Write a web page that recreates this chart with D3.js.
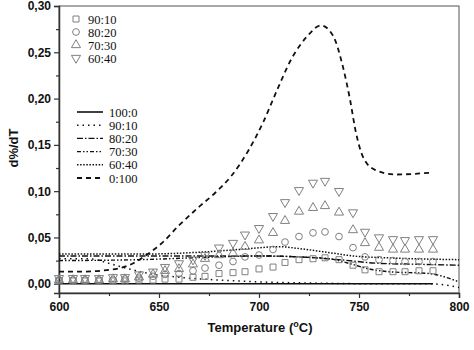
<!DOCTYPE html>
<html>
<head>
<meta charset="utf-8">
<script src="https://cdn.jsdelivr.net/npm/d3@7"></script>
<style>
  body { margin: 0; background: #fff; }
  svg { display: block; }
</style>
</head>
<body>
<svg id="chart" width="474" height="350"></svg>
<script>
// symbol series (sampled every ~6.7 °C)
const temps = [600,607,613,620,627,633,640,647,653,660,667,673,680,687,693,700,707,713,720,727,733,740,747,753,760,767,773,780,787];
const s9010 = [0.003,0.003,0.003,0.003,0.003,0.003,0.004,0.004,0.005,0.005,0.007,0.008,0.011,0.012,0.013,0.016,0.018,0.023,0.026,0.027,0.028,0.026,0.020,0.015,0.013,0.013,0.013,0.014,0.014];
const s8020 = [0.004,0.004,0.004,0.004,0.004,0.005,0.006,0.008,0.010,0.011,0.014,0.017,0.020,0.024,0.029,0.031,0.037,0.045,0.051,0.055,0.056,0.051,0.039,0.029,0.026,0.025,0.024,0.024,0.024];
const s7030 = [0.004,0.004,0.004,0.004,0.005,0.005,0.007,0.010,0.014,0.016,0.021,0.027,0.031,0.033,0.040,0.047,0.055,0.068,0.078,0.082,0.084,0.077,0.058,0.044,0.039,0.037,0.037,0.037,0.037];
const s6040 = [0.006,0.006,0.006,0.006,0.007,0.007,0.010,0.013,0.018,0.022,0.026,0.031,0.039,0.044,0.053,0.060,0.073,0.088,0.101,0.109,0.111,0.100,0.077,0.056,0.050,0.048,0.047,0.048,0.048];

// line series
const l1000T = [600,650,700,750,787];
const l1000V = [0.000,0.000,0.000,0.000,0.000];
const l9010T = [600,615,625,635,645,660,680,700,720,760,785,800];
const l9010V = [0.027,0.027,0.022,0.016,0.011,0.007,0.004,0.002,0.001,0.000,0.000,-0.004];
const l8020T = [600,650,700,720,740,760,780,800];
const l8020V = [0.030,0.030,0.030,0.029,0.026,0.022,0.021,0.020];
const l7030T = [600,640,680,700,720,735,745,755,765,785,800];
const l7030V = [0.025,0.026,0.029,0.030,0.029,0.027,0.022,0.016,0.013,0.011,0.002];
const l6040T = [600,640,670,690,710,720,737,747,764,800];
const l6040V = [0.032,0.032,0.034,0.037,0.040,0.038,0.033,0.030,0.028,0.026];
const l0100T = [600,610,625,635,645,652,660,670,678,686,695,702,709,716,724,731,737,742,745.5,748.5,752,758,768,786];
const l0100V = [0.013,0.013,0.015,0.020,0.033,0.045,0.063,0.083,0.098,0.116,0.145,0.174,0.209,0.242,0.267,0.279,0.268,0.234,0.199,0.163,0.137,0.123,0.118,0.120];

const symLabels = ["90:10","80:20","70:30","60:40"];
const lineLabels = ["100:0","90:10","80:20","70:30","60:40","0:100"];
const yTicks = [0,0.05,0.10,0.15,0.20,0.25,0.30];
const xTicks = [600,650,700,750,800];

let svg = d3.select("#chart");
let pLeft = 59, pRight = 459, pTop = 6, pBottom = 293;

let x = d3.scaleLinear().domain([600, 800]).range([pLeft, pRight]);
let y = d3.scaleLinear().domain([-0.01, 0.30]).range([pBottom, pTop]);

let comma = d3.formatLocale({decimal: ",", thousands: ".", grouping: [3], currency: ["", ""]}).format(".2f");

// frame
svg.append("rect")
   .attr("x", pLeft).attr("y", pTop)
   .attr("width", pRight - pLeft).attr("height", pBottom - pTop)
   .attr("fill", "none").attr("stroke", "#555").attr("stroke-width", 1);

// axes
svg.append("g").attr("transform", `translate(${pLeft},0)`)
   .call(d3.axisLeft(y).tickValues(yTicks).tickFormat(comma).tickSize(5).tickPadding(3));
svg.append("g").attr("transform", `translate(${pLeft},0)`)
   .call(d3.axisLeft(y).tickValues([0.025,0.075,0.125,0.175,0.225,0.275]).tickFormat("").tickSize(3))
   .call(g => g.selectAll("text").remove())
   .select(".domain").remove();
svg.append("g").attr("transform", `translate(0,${pBottom})`)
   .call(d3.axisBottom(x).tickValues(xTicks).tickSize(5).tickPadding(4));
svg.append("g").attr("transform", `translate(0,${pBottom})`)
   .call(d3.axisBottom(x).tickValues([625,675,725,775]).tickFormat("").tickSize(3))
   .call(g => g.selectAll("text").remove())
   .select(".domain").remove();

svg.selectAll(".domain").attr("stroke", "#333").attr("stroke-width", 1.5);
svg.selectAll(".tick line").attr("stroke", "#333").attr("stroke-width", 1.2);
svg.selectAll(".tick text")
   .attr("font-family", "'Liberation Sans', Arial, sans-serif")
   .attr("font-weight", "bold").attr("font-size", 12).attr("fill", "#111");

// axis titles
let xt = svg.append("text")
   .attr("x", 260).attr("y", 332).attr("text-anchor", "middle")
   .attr("font-family", "'Liberation Sans', Arial, sans-serif")
   .attr("font-weight", "bold").attr("font-size", 13).attr("fill", "#111");
xt.append("tspan").text("Temperature (");
xt.append("tspan").attr("font-size", 9).attr("dy", -5).text("o");
xt.append("tspan").attr("dy", 5).text("C)");

svg.append("text")
   .attr("transform", "translate(18,148) rotate(-90)")
   .attr("text-anchor", "middle")
   .attr("font-family", "'Liberation Sans', Arial, sans-serif")
   .attr("font-weight", "bold").attr("font-size", 13).attr("fill", "#111")
   .text("d%/dT");

// lines
let lineGen = d3.line().x(d => x(d[0])).y(d => y(d[1])).curve(d3.curveMonotoneX);
let lineSeries = [
  {t: l1000T, v: l1000V, dash: null, w: 1.6},
  {t: l9010T, v: l9010V, dash: "1.5,4", w: 1.5},
  {t: l8020T, v: l8020V, dash: "6,2,1.5,2", w: 1.4},
  {t: l7030T, v: l7030V, dash: "4,2,1.5,2,1.5,2", w: 1.4},
  {t: l6040T, v: l6040V, dash: "1.5,1.6", w: 1.5},
  {t: l0100T, v: l0100V, dash: "5,4", w: 1.8}
];
let plot = svg.append("g");
plot.selectAll("path.series")
    .data(lineSeries)
    .enter()
    .append("path")
    .attr("class", "series")
    .attr("d", d => lineGen(d.t.map((t, i) => [t, d.v[i]])))
    .attr("fill", "none")
    .attr("stroke", "#111")
    .attr("stroke-width", d => d.w)
    .attr("stroke-dasharray", d => d.dash);

// symbols
let symSeries = [
  {v: s9010, type: d3.symbolSquare, size: 36, rot: 0},
  {v: s8020, type: d3.symbolCircle, size: 36, rot: 0},
  {v: s7030, type: d3.symbolTriangle, size: 36, rot: 0},
  {v: s6040, type: d3.symbolTriangle, size: 36, rot: 180}
];
let symGray = "#808080";
symSeries.forEach(s => {
  plot.append("g").selectAll("path")
      .data(temps.map((t, i) => [t, s.v[i]]))
      .enter()
      .append("path")
      .attr("d", d3.symbol().type(s.type).size(s.size))
      .attr("transform", d => `translate(${x(d[0])},${y(d[1])}) rotate(${s.rot})`)
      .attr("fill", "none")
      .attr("stroke", symGray)
      .attr("stroke-width", 1);
});

// legends
let legFont = "'Liberation Serif', 'Times New Roman', serif";
let symLeg = svg.append("g");
symLabels.forEach((lab, i) => {
  let yy = 19 + i * 13;
  symLeg.append("path")
        .attr("d", d3.symbol().type(symSeries[i].type).size(symSeries[i].size))
        .attr("transform", `translate(76,${yy}) rotate(${symSeries[i].rot})`)
        .attr("fill", "none").attr("stroke", symGray).attr("stroke-width", 1);
  symLeg.append("text").attr("x", 88).attr("y", yy + 4.5)
        .attr("font-family", legFont).attr("font-size", 12.5).attr("fill", "#111")
        .text(lab);
});

let lineLeg = svg.append("g");
lineLabels.forEach((lab, i) => {
  let yy = 112 + i * 13.2;
  lineLeg.append("line")
         .attr("x1", 77).attr("x2", 103).attr("y1", yy).attr("y2", yy)
         .attr("stroke", "#111").attr("stroke-width", lineSeries[i].w)
         .attr("stroke-dasharray", lineSeries[i].dash);
  lineLeg.append("text").attr("x", 109).attr("y", yy + 4.5)
         .attr("font-family", legFont).attr("font-size", 12.5).attr("fill", "#111")
         .text(lab);
});
</script>
</body>
</html>
